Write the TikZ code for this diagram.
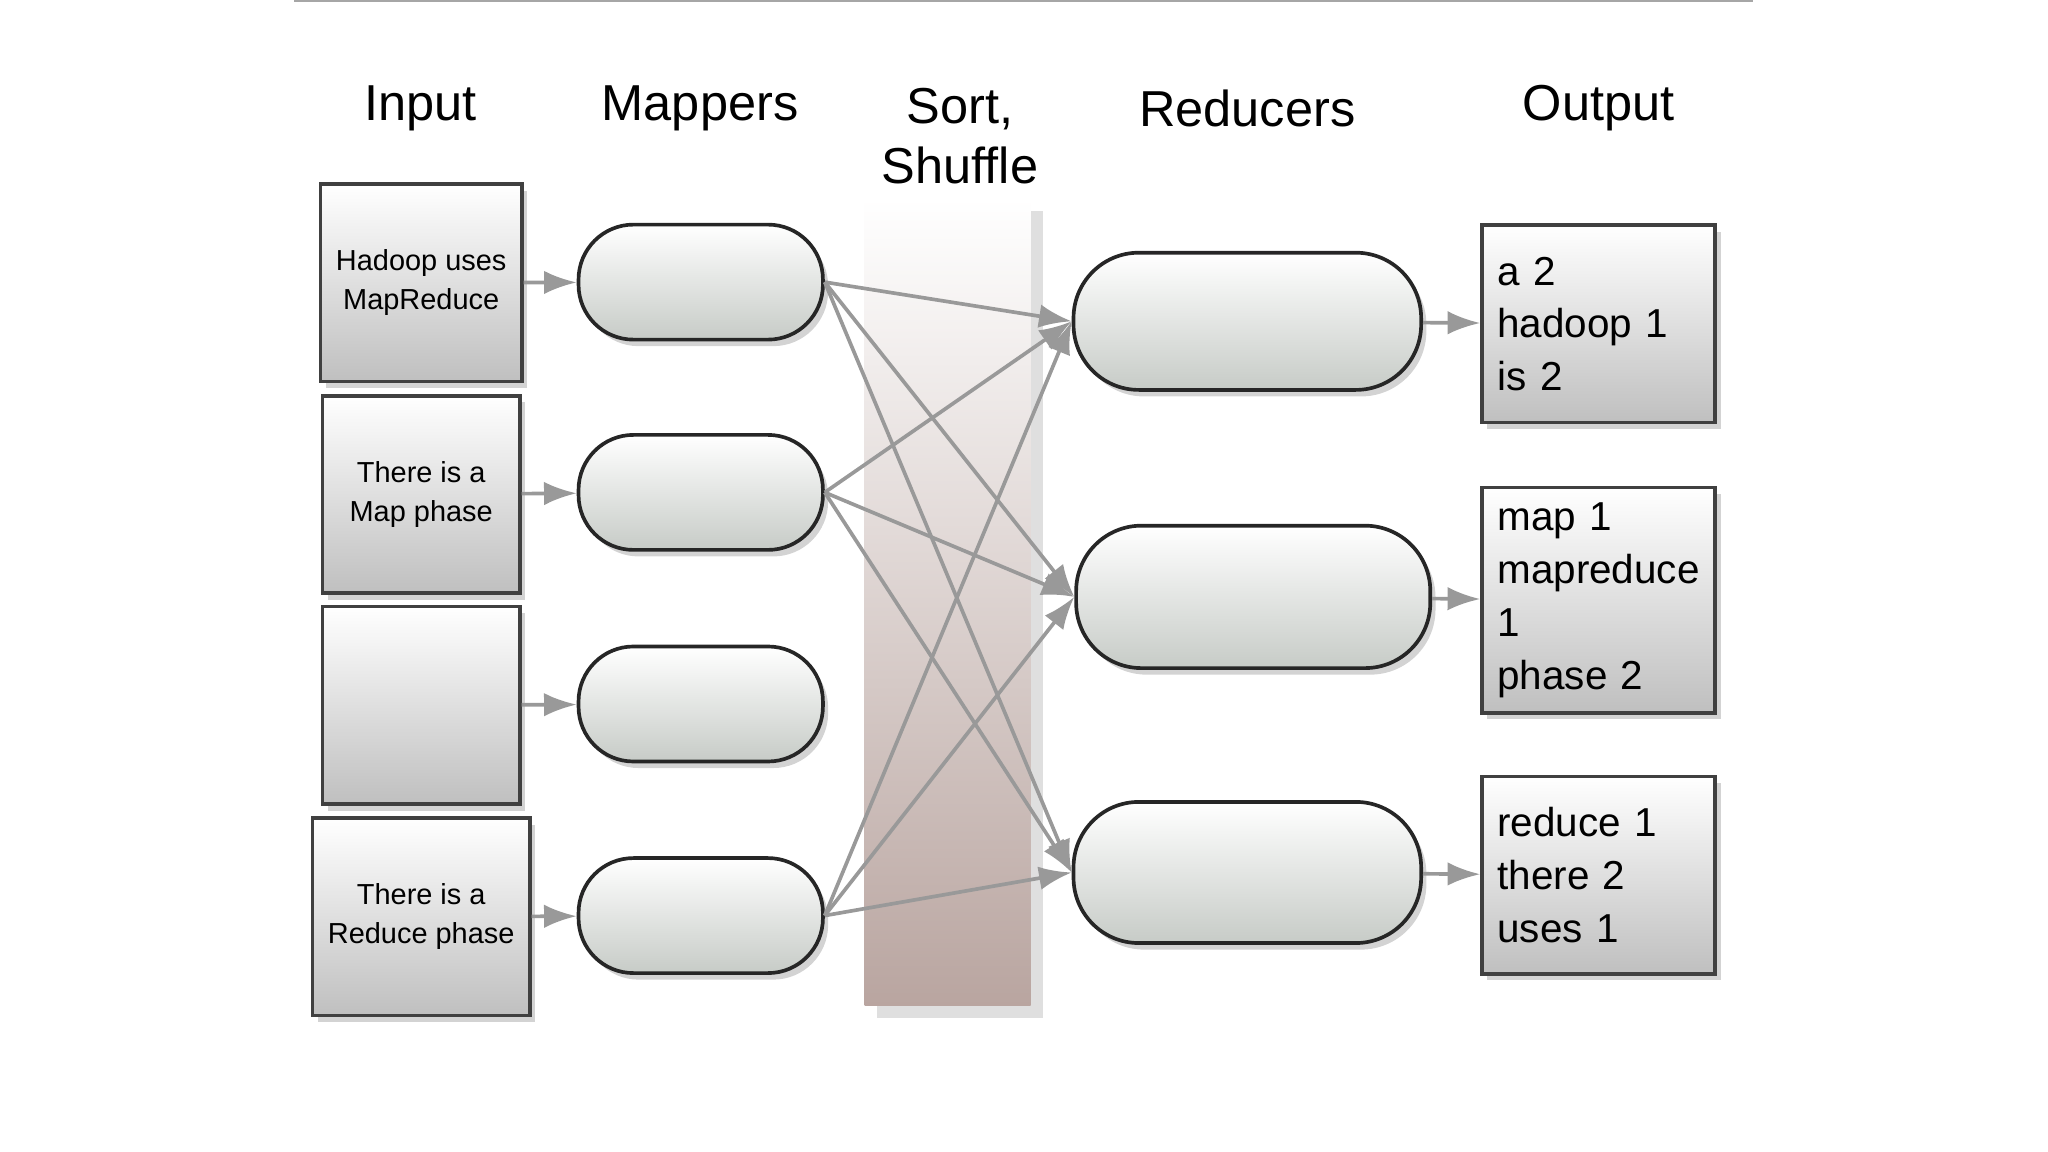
\documentclass[tikz,border=0pt]{standalone}
\usepackage{fontspec}
\setmainfont{Liberation Sans}
\usetikzlibrary{shadows,arrows.meta}
\begin{document}
\begin{tikzpicture}[x=0.01cm,y=-0.01cm,
 hdr/.style={font=\fontsize{11}{13}\selectfont,align=center},
 inbox/.style={draw=black!75,line width=0.8pt,top color=white,bottom color=black!25,minimum width=1.51cm,minimum height=1.51cm,align=center,font=\fontsize{6.3}{8.5}\selectfont,drop shadow={opacity=0.35,shadow xshift=0.04cm,shadow yshift=-0.05cm}},
 outbox/.style={draw=black!75,line width=0.8pt,top color=white,bottom color=black!25,minimum width=1.74cm,minimum height=1.51cm,align=left,text width=1.55cm,font=\fontsize{8.8}{11.5}\selectfont,drop shadow={opacity=0.35,shadow xshift=0.04cm,shadow yshift=-0.05cm}},
 mapper/.style={draw=black!85,line width=0.8pt,rounded corners=0.42cm,top color=white,bottom color=green!8!black!22,minimum width=1.87cm,minimum height=0.88cm,drop shadow={opacity=0.35,shadow xshift=0.04cm,shadow yshift=-0.05cm}},
 reducer/.style={draw=black!85,line width=0.8pt,rounded corners=0.5cm,top color=white,bottom color=green!8!black!22,minimum height=1.05cm,drop shadow={opacity=0.35,shadow xshift=0.04cm,shadow yshift=-0.05cm}},
 arr/.style={draw=black!40,line width=0.8pt,-{Latex[length=2.5mm,width=1.8mm]}}]
\useasboundingbox (0,0) rectangle (1568,882);
\draw[black!35,line width=0.8pt] (225,0) -- (1342,0);
\node[hdr] (h1) at (322,83) {Input};
\node[hdr] (h2) at (536,83) {Mappers};
\node[hdr] (h3) at (735,104) {Sort,\\Shuffle};
\node[hdr] (h4) at (955,83) {Reducers};
\node[hdr] (h5) at (1224,83) {Output};
% sort column
\shade[top color=white,bottom color={rgb,255:red,185;green,165;blue,160},drop shadow={opacity=0.25}] (662,152) rectangle (789,770);
\node[inbox] (i1) at (322.5,216.5) {Hadoop uses\\MapReduce};
\node[inbox] (i2) at (322.5,378.5) {There is a\\Map phase};
\node[inbox] (i3) at (322.5,540) {};
\node[inbox] (i4) at (322.5,702) {There is a\\Reduce phase};
\node[mapper] (m1) at (536.5,216) {};
\node[mapper] (m2) at (536.5,377) {};
\node[mapper] (m3) at (536.5,539) {};
\node[mapper] (m4) at (536.5,701) {};
\node[reducer,minimum width=2.66cm] (r1) at (955,246) {};
\node[reducer,minimum width=2.71cm,minimum height=1.09cm] (r2) at (959.5,457) {};
\node[reducer,minimum width=2.66cm,minimum height=1.08cm] (r3) at (955,668) {};
\node[outbox] (o1) at (1224,248) {a 2\\hadoop 1\\is 2};
\node[outbox] (o2) at (1224,459.5) {map 1\\mapreduce 1\\phase 2};
\node[outbox] (o3) at (1224,670) {reduce 1\\there 2\\uses 1};
\foreach \i in {1,...,4}{\draw[arr] (i\i) -- (m\i);}
\foreach \i in {1,2,3}{\draw[arr] (r\i) -- (o\i);}
\foreach \m in {1,2,4}{\foreach \r in {1,2,3}{\draw[arr] (m\m.east) -- (r\r.west);}}
\end{tikzpicture}
\end{document}
